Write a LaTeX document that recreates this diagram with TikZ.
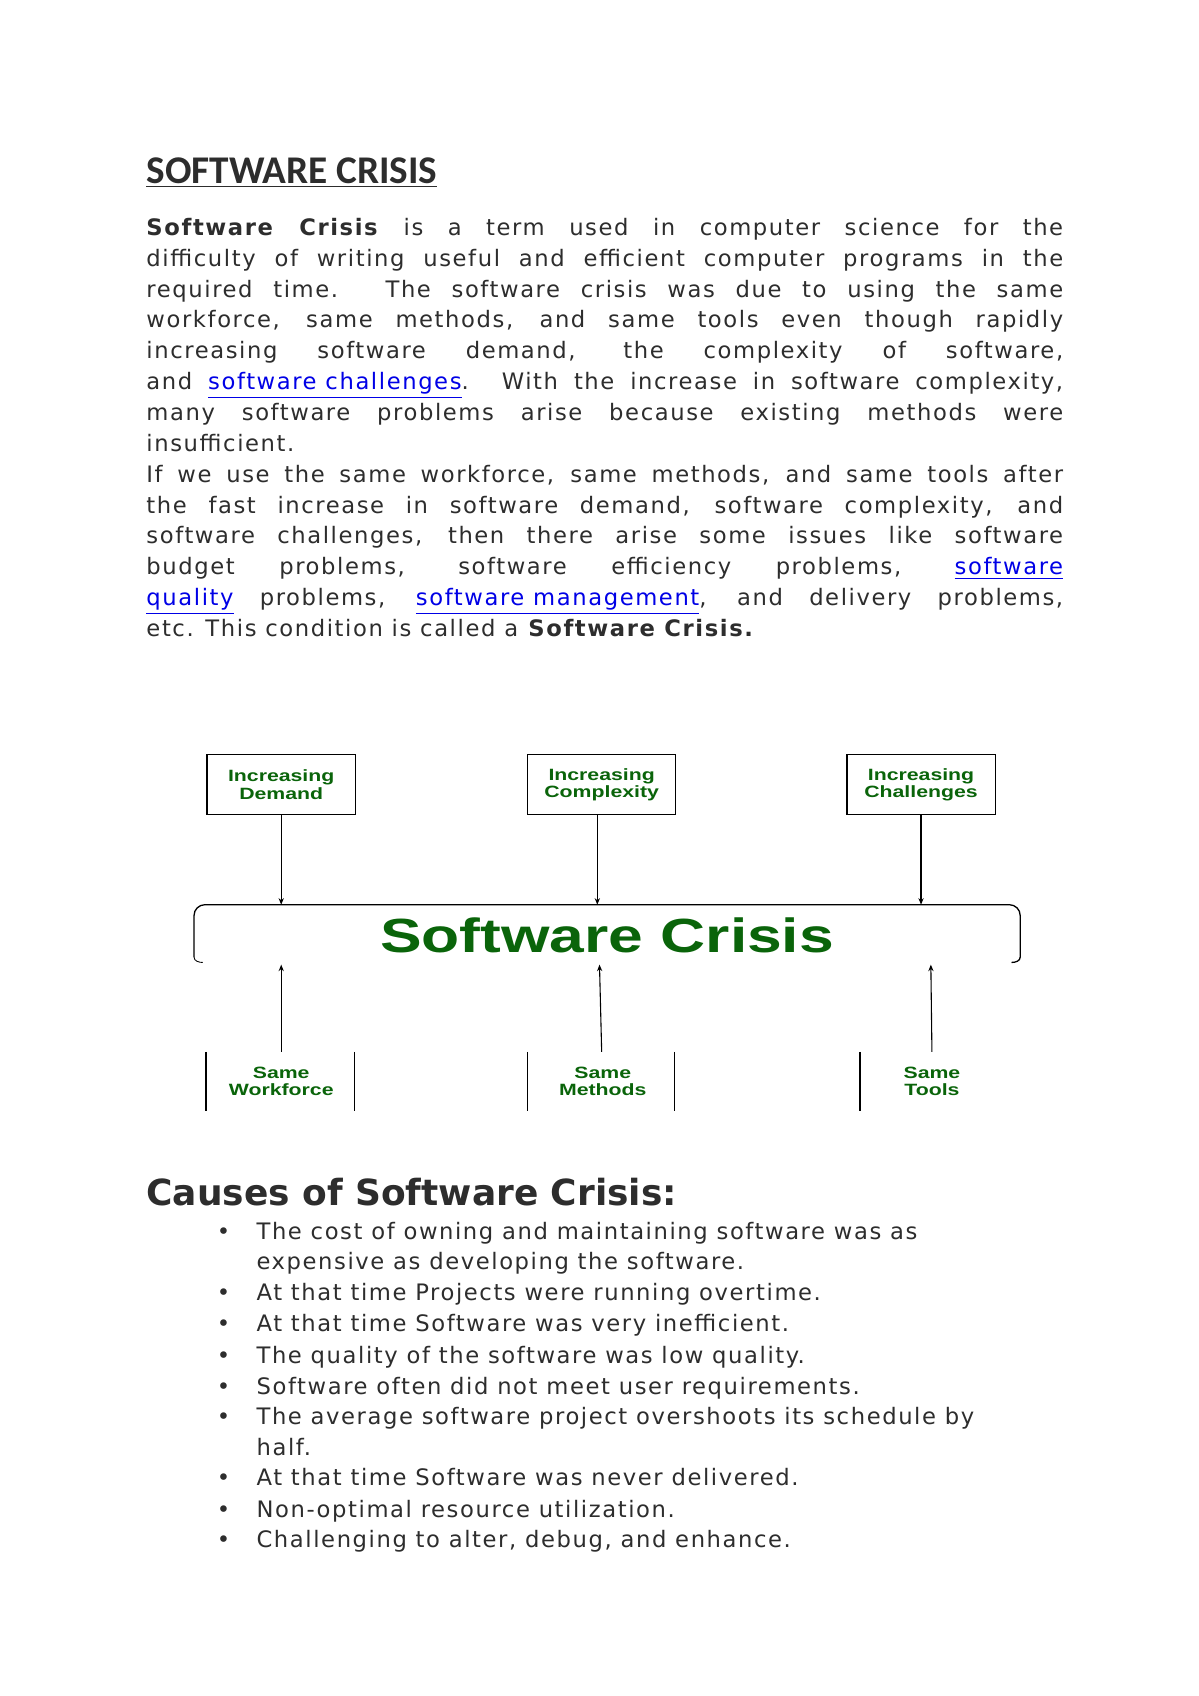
\documentclass[tikz,border=0pt]{standalone}
\usepackage{fontspec}
\setmainfont{DejaVu Sans}
\newfontfamily\carl{Carlito}
\newfontfamily\arl{Liberation Sans}
\newfontfamily\bodyf[LetterSpace=7]{DejaVu Sans}
\usetikzlibrary{arrows.meta}
\definecolor{lnk}{RGB}{0,0,230}
\definecolor{dg}{RGB}{10,100,10}
\definecolor{txt}{RGB}{45,45,45}
\newcommand{\lk}[1]{{\color{lnk}\underline{#1}}}
\tikzset{
 topbox/.style={draw,line width=0.6pt,minimum width=68pt,minimum height=27.5pt,inner sep=0pt,align=center,font=\arl\bfseries\fontsize{7.5}{8}\selectfont,text=dg},
 botlab/.style={align=center,font=\arl\bfseries\fontsize{7.5}{8}\selectfont,text=dg},
 arr/.style={-{Stealth[length=3pt,width=2.4pt]},line width=0.5pt}
}
\begin{document}
\begin{tikzpicture}[x=0.5pt,y=0.5pt]
\useasboundingbox (0,0) rectangle (1100,-1556);
\node[anchor=base west,inner sep=0,text=txt] (title) at (134,-168) {\carl\bfseries\fontsize{18}{20}\selectfont\underline{SOFTWARE CRISIS}};
\node[anchor=base west,inner sep=0,text=txt] (para) at (134,-216) {\parbox[t]{420.5pt}{\bodyf\fontsize{10.4}{14.15}\selectfont
\textbf{Software Crisis} is a term used in computer science for the\linebreak
difficulty of writing useful and efficient computer programs in the\linebreak
required time. The software crisis was due to using the same\linebreak
workforce, same methods, and same tools even though rapidly\linebreak
increasing software demand, the complexity of software,\linebreak
and \lk{software challenges}. With the increase in software complexity,\linebreak
many software problems arise because existing methods were\linebreak
insufficient.\par
If we use the same workforce, same methods, and same tools after\linebreak
the fast increase in software demand, software complexity, and\linebreak
software challenges, then there arise some issues like software\linebreak
budget problems, software efficiency problems, \lk{software}\linebreak
\lk{quality} problems, \lk{software management}, and delivery problems,\linebreak
etc. This condition is called a \textbf{Software Crisis.}}};
% diagram
\node[topbox] (d) at (258,-720) {\scalebox{1.3}[1]{Increasing}\\\scalebox{1.3}[1]{Demand}};
\node[topbox] (c) at (552,-720) {\scalebox{1.3}[1]{Increasing}\\\scalebox{1.3}[1]{Complexity}};
\node[topbox] (h) at (845,-720) {\scalebox{1.3}[1]{Increasing}\\\scalebox{1.3}[1]{Challenges}};
\draw[line width=0.6pt] (178,-878) -- (178,-840) to[out=90,in=180] (188,-830) -- (926,-830) to[out=0,in=90] (936,-840) -- (936,-878) to[out=-90,in=0] (928,-883);
\draw[line width=0.4pt] (178,-878) to[out=-90,in=180] (186,-883);
\node (sc) at (557,-858) {\arl\bfseries\color{dg}\scalebox{1.3}[1]{\fontsize{22}{24}\selectfont Software Crisis}};
\coordinate (t1) at (258,-830); \coordinate (t2) at (548,-830); \coordinate (t3) at (845,-830);
\draw[arr] (d.south -| t1) -- (t1);
\draw[arr] (c.south -| t2) -- (t2);
\draw[arr] (h.south -| t3) -- (t3);
\node[botlab] (w) at (258,-992) {\scalebox{1.3}[1]{Same}\\\scalebox{1.3}[1]{Workforce}};
\node[botlab] (m) at (553,-992) {\scalebox{1.3}[1]{Same}\\\scalebox{1.3}[1]{Methods}};
\node[botlab] (tl) at (855,-992) {\scalebox{1.3}[1]{Same}\\\scalebox{1.3}[1]{Tools}};
\draw[line width=0.6pt] (189,-965) -- (189,-1019) (325,-965) -- (325,-1019)
 (484,-965) -- (484,-1019) (619,-965) -- (619,-1019) (789,-965) -- (789,-1019);
\coordinate (w0) at (258,-965); \coordinate (m0) at (552,-965); \coordinate (tl0) at (855,-965);
\coordinate (w1) at (258,-885); \coordinate (m1) at (550,-885); \coordinate (tl1) at (854,-885);
\draw[arr] (w0) -- (w1);
\draw[arr] (m0) -- (m1);
\draw[arr] (tl0) -- (tl1);
% causes
\node[anchor=base west,inner sep=0,text=txt] (ch) at (134,-1106) {\bfseries\fontsize{16.5}{18}\selectfont Causes of Software Crisis:};
\foreach \t/\y in {{The cost of owning and maintaining software was as}/1137,{expensive as developing the software.}/1165,{At that time Projects were running overtime.}/1193,{At that time Software was very inefficient.}/1222,{The quality of the software was low quality.}/1251,{Software often did not meet user requirements.}/1279,{The average software project overshoots its schedule by}/1307,{half.}/1335,{At that time Software was never delivered.}/1363,{Non-optimal resource utilization.}/1392,{Challenging to alter, debug, and enhance.}/1420}
  \node[anchor=base west,inner sep=0,text=txt,font=\bodyf\fontsize{10.4}{12}\selectfont] at (235,-\y) {\t};
\foreach \y in {1137,1193,1222,1251,1279,1307,1363,1392,1420}
  \node[anchor=base,inner sep=0,text=txt,font=\fontsize{10.4}{12}\selectfont] at (205,-\y) {•};
\end{tikzpicture}
\end{document}
